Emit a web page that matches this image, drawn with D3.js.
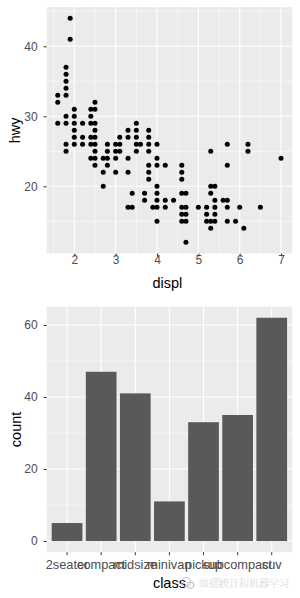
<!DOCTYPE html>
<html>
<head>
<meta charset="utf-8">
<script src="https://cdn.jsdelivr.net/npm/d3@7"></script>
<style>
  html, body { margin: 0; padding: 0; background: #ffffff; }
  svg { display: block; font-family: "Liberation Sans", Arial, sans-serif; }
</style>
</head>
<body>
<svg id="chart" width="300" height="598"></svg>
<script>
// ---- Scatter data (unique visible points of displ vs hwy) ----
const displ = [
  1.6,1.6,1.6,
  1.8,1.8,1.8,1.8,1.8,1.8,1.8,1.8,1.8,
  1.9,1.9,
  2.0,2.0,2.0,2.0,2.0,2.0,
  2.2,2.2,2.2,
  2.4,2.4,2.4,2.4,2.4,2.4,
  2.5,2.5,2.5,2.5,2.5,2.5,2.5,2.5,2.5,
  2.7,2.7,2.7,
  2.8,2.8,2.8,2.8,
  3.0,3.0,3.0,3.0,
  3.1,3.1,3.1,
  3.3,3.3,3.3,3.3,3.3,
  3.4,3.4,
  3.5,3.5,3.5,3.5,3.5,
  3.6,
  3.7,3.7,
  3.8,3.8,3.8,3.8,3.8,3.8,3.8,
  3.9,
  4.0,4.0,4.0,4.0,4.0,4.0,4.0,4.0,
  4.2,4.2,4.2,
  4.4,
  4.6,4.6,4.6,4.6,4.6,4.6,4.6,
  4.7,4.7,4.7,4.7,4.7,
  5.0,
  5.2,5.2,5.2,
  5.3,5.3,5.3,5.3,5.3,
  5.4,5.4,5.4,5.4,5.4,
  5.6,
  5.7,5.7,5.7,5.7,5.7,
  5.9,
  6.0,
  6.1,
  6.2,6.2,
  6.5,
  7.0
];
const hwy = [
  33,32,29,
  37,36,35,34,33,30,29,26,25,
  44,41,
  31,30,29,28,27,26,
  29,27,26,
  31,30,29,27,26,24,
  32,31,29,28,27,26,25,24,23,
  24,22,20,
  26,25,24,23,
  26,25,24,22,
  27,26,25,
  28,27,24,22,17,
  19,17,
  29,28,27,26,25,
  26,
  19,18,
  28,27,26,25,23,22,21,
  17,
  26,24,23,20,19,18,17,15,
  23,18,17,
  18,
  23,22,21,19,17,16,15,
  19,17,16,15,12,
  17,
  17,16,15,
  25,20,19,15,14,
  20,18,17,16,15,
  18,
  26,23,18,17,15,
  15,
  17,
  14,
  26,25,
  17,
  24
];
const xTicks = [2, 3, 4, 5, 6, 7];
const xMinor = [1.5, 2.5, 3.5, 4.5, 5.5, 6.5];
const yTicks = [20, 30, 40];
const yMinor = [15, 25, 35, 45];

// ---- Bar data (count of class) ----
const classes = ["2seater", "compact", "midsize", "minivan", "pickup", "subcompact", "suv"];
const counts = [5, 47, 41, 11, 33, 35, 62];
const countTicks = [0, 20, 40, 60];
const countMinor = [10, 30, 50];

const svg = d3.select("#chart");
const PANEL_BG = "#EBEBEB";
const TICK_COL = "#333333";
const LABEL_COL = "#4D4D4D";
const TICK_FS = 12;
const CLASS_FS = 12.8;
const TITLE_FS = 14.5;

const L = 46.6, R = 292.2;

// ================= TOP: scatter =================
const t = { top: 7.1, bottom: 253.5 };
const xs = d3.scaleLinear().domain([1.33, 7.27]).range([L, R]);
const ys = d3.scaleLinear().domain([10.4, 45.6]).range([t.bottom, t.top]);

const g1 = svg.append("g");
g1.append("rect").attr("x", L).attr("y", t.top).attr("width", R - L).attr("height", t.bottom - t.top).attr("fill", PANEL_BG);
// minor grid
g1.selectAll(".xm").data(xMinor).join("line")
  .attr("x1", d => xs(d)).attr("x2", d => xs(d)).attr("y1", t.top).attr("y2", t.bottom)
  .attr("stroke", "#fff").attr("stroke-width", 0.55);
g1.selectAll(".ym").data(yMinor).join("line")
  .attr("y1", d => ys(d)).attr("y2", d => ys(d)).attr("x1", L).attr("x2", R)
  .attr("stroke", "#fff").attr("stroke-width", 0.55);
// major grid
g1.selectAll(".xM").data(xTicks).join("line")
  .attr("x1", d => xs(d)).attr("x2", d => xs(d)).attr("y1", t.top).attr("y2", t.bottom)
  .attr("stroke", "#fff").attr("stroke-width", 1.1);
g1.selectAll(".yM").data(yTicks).join("line")
  .attr("y1", d => ys(d)).attr("y2", d => ys(d)).attr("x1", L).attr("x2", R)
  .attr("stroke", "#fff").attr("stroke-width", 1.1);
// points
g1.selectAll("circle").data(displ.map((d, i) => [d, hwy[i]])).join("circle")
  .attr("cx", d => xs(d[0])).attr("cy", d => ys(d[1])).attr("r", 2.5).attr("fill", "#000");

// axes
function styleAxis(sel, fs) {
  sel.select(".domain").remove();
  sel.selectAll(".tick line").attr("stroke", TICK_COL).attr("stroke-width", 1);
  sel.selectAll(".tick text").attr("fill", LABEL_COL).attr("font-size", fs)
    .attr("font-family", "'Liberation Sans', Arial, sans-serif");
}
const ax1 = g1.append("g").attr("transform", `translate(0,${t.bottom})`)
  .call(d3.axisBottom(xs).tickValues(xTicks).tickSize(3).tickFormat(d3.format("d")));
styleAxis(ax1, TICK_FS);
ax1.selectAll(".tick text").attr("y", 10.5).attr("dy", 0);
const ay1 = g1.append("g").attr("transform", `translate(${L},0)`)
  .call(d3.axisLeft(ys).tickValues(yTicks).tickSize(3).tickPadding(5.9));
styleAxis(ay1, TICK_FS);

g1.append("text").attr("x", (L + R) / 2 - 2).attr("y", 288).attr("text-anchor", "middle")
  .attr("font-size", TITLE_FS).attr("fill", "#000").text("displ");
g1.append("text").attr("transform", `translate(19.5,${(t.top + t.bottom) / 2}) rotate(-90)`)
  .attr("text-anchor", "middle").attr("font-size", TITLE_FS).attr("fill", "#000").text("hwy");

// ================= BOTTOM: bars =================
const b = { top: 306.6, bottom: 552.2 };
const xb = d3.scaleBand().domain(classes).range([L, R]).paddingInner(0.1).paddingOuter(0.15);
const yb = d3.scaleLinear().domain([-3.1, 65.1]).range([b.bottom, b.top]);

const g2 = svg.append("g");
g2.append("rect").attr("x", L).attr("y", b.top).attr("width", R - L).attr("height", b.bottom - b.top).attr("fill", PANEL_BG);
g2.selectAll(".ym").data(countMinor).join("line")
  .attr("y1", d => yb(d)).attr("y2", d => yb(d)).attr("x1", L).attr("x2", R)
  .attr("stroke", "#fff").attr("stroke-width", 0.55);
g2.selectAll(".yM").data(countTicks).join("line")
  .attr("y1", d => yb(d)).attr("y2", d => yb(d)).attr("x1", L).attr("x2", R)
  .attr("stroke", "#fff").attr("stroke-width", 1.1);
g2.selectAll(".xM").data(classes).join("line")
  .attr("x1", d => xb(d) + xb.bandwidth() / 2).attr("x2", d => xb(d) + xb.bandwidth() / 2)
  .attr("y1", b.top).attr("y2", b.bottom)
  .attr("stroke", "#fff").attr("stroke-width", 1.1);
g2.selectAll(".bar").data(classes.map((c, i) => [c, counts[i]])).join("rect")
  .attr("x", d => xb(d[0])).attr("width", xb.bandwidth())
  .attr("y", d => yb(d[1])).attr("height", d => yb(0) - yb(d[1]))
  .attr("fill", "#595959");

const ax2 = g2.append("g").attr("transform", `translate(0,${b.bottom})`)
  .call(d3.axisBottom(xb).tickSize(3));
styleAxis(ax2, CLASS_FS);
ax2.selectAll(".tick text").attr("y", 17.3).attr("dy", 0);
const ay2 = g2.append("g").attr("transform", `translate(${L},0)`)
  .call(d3.axisLeft(yb).tickValues(countTicks).tickSize(3).tickPadding(5.9));
styleAxis(ay2, TICK_FS);

g2.append("text").attr("x", (L + R) / 2).attr("y", 588).attr("text-anchor", "middle")
  .attr("font-size", TITLE_FS).attr("fill", "#000").text("class");
g2.append("text").attr("transform", `translate(20.5,${(b.top + b.bottom) / 2}) rotate(-90)`)
  .attr("text-anchor", "middle").attr("font-size", TITLE_FS).attr("fill", "#000").text("count");

// ---- watermark ----
const wm = svg.append("g").attr("opacity", 0.85);
wm.append("circle").attr("cx", 186).attr("cy", 582).attr("r", 4.5).attr("fill", "none")
  .attr("stroke", "#bdbdbd").attr("stroke-width", 1.2);
wm.append("circle").attr("cx", 190.5).attr("cy", 585).attr("r", 3.2).attr("fill", "none")
  .attr("stroke", "#bdbdbd").attr("stroke-width", 1.2);
wm.append("text").attr("x", 199).attr("y", 587).attr("font-size", 10)
  .attr("font-family", "'Noto Sans CJK SC', sans-serif")
  .attr("fill", "#a8a8a8").attr("stroke", "#ffffff").attr("stroke-width", 0.4)
  .text("数据统计和机器学习");
</script>
</body>
</html>
